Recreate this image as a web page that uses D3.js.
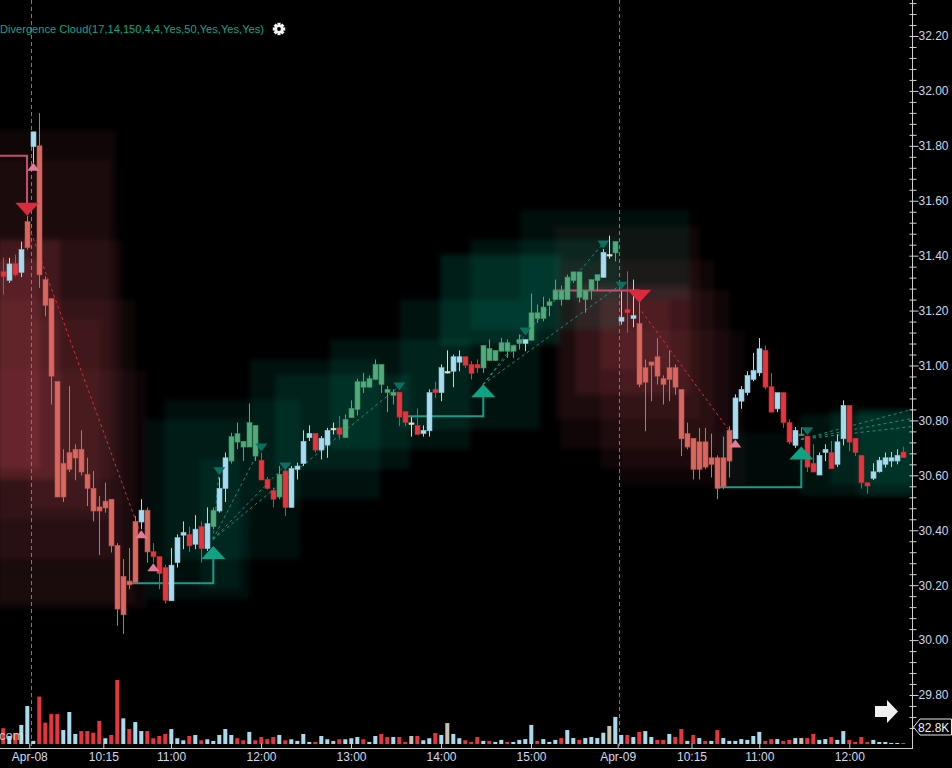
<!DOCTYPE html>
<html>
<head>
<meta charset="utf-8">
<script src="https://cdn.jsdelivr.net/npm/d3@7"></script>
<style>
  html, body { margin: 0; padding: 0; background: #000; }
  svg { display: block; font-family: "Liberation Sans", Arial, sans-serif; }
</style>
</head>
<body>
<div id="chart"></div>
<script>
// ---- data (4-minute bars, index 0 = last bars of Apr-07) ----
var legendText = "Divergence Cloud(17,14,150,4,4,Yes,50,Yes,Yes,Yes)";

var opens = [31.342,31.310,31.371,31.339,31.429,31.797,31.800,31.313,31.244,30.942,
  30.521,30.622,30.663,30.695,30.604,30.553,30.485,30.481,30.513,30.345,
  30.092,30.215,30.210,30.430,30.473,30.322,30.304,30.264,30.143,30.282,
  30.382,30.385,30.349,30.413,30.333,30.413,30.470,30.552,30.652,30.752,
  30.724,30.703,30.782,30.655,30.585,30.545,30.521,30.616,30.483,30.622,
  30.643,30.737,30.753,30.692,30.710,30.771,30.773,30.737,30.810,30.840,
  30.941,30.921,30.949,31.004,30.913,30.891,30.903,30.832,30.791,30.782,
  30.752,30.762,30.913,30.901,30.978,30.979,31.012,31.032,31.004,31.004,
  30.991,31.062,31.018,31.052,31.083,31.052,31.080,31.080,31.092,31.192,
  31.171,31.218,31.240,31.273,31.240,31.309,31.341,31.240,31.273,31.309,
  31.321,31.404,31.410,31.161,31.204,31.171,31.153,30.939,31.001,31.032,
  30.952,30.949,30.992,30.913,30.703,30.735,30.622,30.722,30.640,30.664,
  30.558,30.652,30.733,30.870,30.901,30.949,30.973,31.055,30.923,30.842,
  30.901,30.792,30.709,30.750,30.743,30.644,30.601,30.683,30.683,30.640,
  30.733,30.855,30.735,30.673,30.573,30.589,30.613,30.640,30.652,30.652,
  30.685];
var highs = [31.393,31.392,31.404,31.451,31.545,31.851,31.919,31.325,31.244,30.942,
  30.695,30.925,30.713,30.764,30.664,30.616,30.525,30.573,30.513,30.353,
  30.295,30.335,30.452,30.513,30.483,30.353,30.304,30.274,30.335,30.385,
  30.432,30.413,30.455,30.432,30.483,30.483,30.592,30.683,30.755,30.792,
  30.724,30.862,30.782,30.683,30.594,30.555,30.634,30.622,30.634,30.646,
  30.764,30.782,30.753,30.743,30.773,30.792,30.816,30.822,30.873,30.952,
  30.973,30.964,31.022,31.004,30.925,30.913,30.903,30.832,30.812,30.844,
  30.782,30.913,30.941,31.004,31.055,31.040,31.055,31.032,31.016,31.022,
  31.073,31.095,31.055,31.100,31.095,31.073,31.113,31.095,31.262,31.222,
  31.250,31.244,31.313,31.291,31.331,31.341,31.341,31.273,31.313,31.331,
  31.424,31.473,31.452,31.270,31.343,31.313,31.240,31.022,31.013,31.100,
  30.964,31.055,31.004,30.913,30.792,30.735,30.773,30.773,30.752,30.673,
  30.741,30.779,30.895,30.925,30.979,31.046,31.100,31.073,30.973,30.901,
  30.901,30.804,30.776,30.775,30.743,30.713,30.683,30.713,30.725,30.749,
  30.873,30.855,30.735,30.673,30.573,30.644,30.667,30.683,30.685,30.695,
  30.704];
var lows = [31.258,31.301,31.325,31.322,31.422,31.738,31.283,31.179,30.858,30.521,
  30.503,30.612,30.582,30.600,30.488,30.432,30.310,30.464,30.319,30.052,
  30.022,30.185,30.210,30.404,30.282,30.282,30.185,30.133,30.143,30.264,
  30.331,30.321,30.331,30.282,30.325,30.404,30.464,30.503,30.643,30.695,
  30.652,30.703,30.652,30.583,30.549,30.483,30.513,30.452,30.483,30.585,
  30.634,30.725,30.683,30.658,30.664,30.749,30.731,30.737,30.810,30.818,
  30.900,30.921,30.949,30.900,30.830,30.858,30.779,30.779,30.741,30.749,
  30.741,30.741,30.882,30.870,30.971,30.921,30.979,30.991,30.949,30.973,
  30.973,31.016,31.016,31.052,31.028,31.028,31.058,31.052,31.092,31.155,
  31.161,31.179,31.240,31.218,31.240,31.301,31.230,31.192,31.240,31.273,
  31.321,31.389,31.379,31.149,31.119,31.139,30.921,30.761,30.870,30.931,
  30.858,30.870,30.894,30.670,30.695,30.585,30.585,30.622,30.592,30.513,
  30.549,30.592,30.733,30.842,30.891,30.943,30.961,30.913,30.830,30.830,
  30.773,30.713,30.700,30.744,30.612,30.612,30.601,30.652,30.624,30.630,
  30.709,30.688,30.670,30.552,30.533,30.583,30.610,30.628,30.630,30.640,
  30.664];
var closes = [31.324,31.370,31.330,31.422,31.524,31.851,31.330,31.219,30.961,30.521,
  30.644,30.683,30.695,30.612,30.552,30.470,30.470,30.506,30.343,30.113,
  30.232,30.201,30.432,30.473,30.321,30.304,30.242,30.145,30.273,30.373,
  30.392,30.343,30.404,30.333,30.424,30.473,30.553,30.664,30.741,30.721,
  30.703,30.792,30.670,30.583,30.552,30.513,30.604,30.483,30.625,30.634,
  30.724,30.753,30.692,30.735,30.764,30.771,30.749,30.804,30.844,30.941,
  30.921,30.952,31.004,30.931,30.901,30.903,30.812,30.792,30.791,30.749,
  30.764,30.901,30.901,30.992,30.978,31.032,31.032,31.001,30.971,30.991,
  31.073,31.018,31.055,31.083,31.052,31.073,31.095,31.095,31.192,31.171,
  31.213,31.232,31.273,31.240,31.322,31.341,31.248,31.273,31.313,31.331,
  31.412,31.404,31.452,31.176,31.192,31.182,30.931,30.992,31.013,30.961,
  30.931,30.992,30.921,30.733,30.752,30.622,30.722,30.630,30.664,30.552,
  30.664,30.764,30.882,30.913,30.964,30.982,31.061,30.921,30.830,30.901,
  30.792,30.721,30.764,30.750,30.630,30.612,30.673,30.695,30.624,30.722,
  30.855,30.721,30.683,30.573,30.561,30.613,30.655,30.664,30.664,30.673,
  30.664];
// volume, thousands
var volumes = [77,39,54,93,185,15,231,104,146,146,
  68,156,49,63,63,55,112,28,44,312,
  125,73,107,63,63,28,39,49,73,28,
  18,39,44,18,23,15,44,73,44,28,
  18,59,18,34,24,34,44,18,23,15,
  49,10,10,39,23,15,23,23,28,34,
  23,10,39,49,34,34,34,10,39,39,
  18,28,54,44,102,49,28,18,10,34,
  15,15,10,20,10,10,20,24,93,15,
  24,10,20,29,68,29,20,29,34,29,
  55,88,132,44,44,34,59,63,34,20,
  20,49,34,73,15,44,29,15,15,68,
  29,15,15,24,20,39,59,15,24,24,
  15,20,29,29,29,49,20,24,34,20,
  63,20,10,34,10,20,10,10,5,5,
  5];
var volumeMark = 82.8;
// candle painting by the study: n = normal, r = bearish cloud, g = bullish cloud
var paintRuns = [["n",4],["r",1],["n",1],["r",17],["n",1],["r",1],["n",10],["g",1],["n",2],["g",5],
  ["n",3],["g",1],["n",10],["g",9],["n",14],["g",7],["n",1],["g",12],["n",2],["g",1],
  ["n",3],["r",16],["n",11],["g",1],["n",17]];

// x axis
var tickIdx = [4.33, 16.67, 27.95, 42.95, 57.95, 72.95, 87.95, 102.4, 114.7, 126, 141];
var tickLabels = ["Apr-08","10:15","11:00","12:00","13:00","14:00","15:00","Apr-09","10:15","11:00","12:00"];
var sessionStarts = [4.67, 102.67];

// clouds: [fromIdx, toIdx, top, bottom, opacity]
var bearCloud = [
  [-1, 18.8, 31.855, 30.585, 0.07], [-1, 17.8, 31.749, 30.44, 0.07], [-1, 19.95, 31.458, 30.295, 0.08],
  [-1, 21.95, 31.24, 30.131, 0.07], [-1, 23.95, 30.985, 30.113, 0.06], [-1, 9.45, 31.458, 30.585, 0.14],
  [-1, 6.1, 31.385, 30.622, 0.16], [4.45, 16.1, 31.167, 30.476, 0.08],
  [91.95, 116.1, 31.509, 30.804, 0.07], [92.8, 118.6, 31.385, 30.695, 0.08], [99.5, 121.1, 31.276, 30.622, 0.08],
  [102.8, 123.6, 31.131, 30.56, 0.06], [95.3, 114.45, 31.295, 30.895, 0.13], [99.45, 111.1, 31.24, 30.985, 0.1]
];
var bullCloud = [
  [23.6, 41.1, 30.804, 30.149, 0.08], [26.95, 49.45, 30.876, 30.295, 0.08], [41.1, 62.8, 31.022, 30.513, 0.09],
  [45.3, 67.8, 30.967, 30.622, 0.1], [54.45, 77.8, 31.095, 30.695, 0.1], [66.1, 89.45, 31.24, 30.767, 0.1],
  [72.8, 92.8, 31.404, 31.076, 0.16], [77.8, 102.8, 31.458, 31.131, 0.1], [86.1, 114.45, 31.567, 31.24, 0.08],
  [32.8, 39.45, 30.658, 30.185, 0.08],
  [119.45, 132.8, 30.756, 30.56, 0.06], [132.8, 152, 30.822, 30.524, 0.1], [137.8, 152, 30.84, 30.567, 0.1],
  [142.45, 152, 30.84, 30.524, 0.1]
];

// signals
var bearSteps = [[[-1, 31.764], [3.95, 31.764], [3.95, 31.585]], [[91.6, 31.273], [106, 31.273]]];
var bullSteps = [[[21.4, 30.207], [35, 30.207], [35, 30.295]], [[66.95, 30.815], [80, 30.815], [80, 30.884]],
  [[119.45, 30.557], [133, 30.557], [133, 30.658]]];
var bigBear = [[4, 31.593], [106, 31.276]];
var bigBull = [[35, 30.295], [80, 30.884], [133, 30.658]];
var smallBear = [[5, 31.709], [23, 30.371], [25, 30.251], [122, 30.701]];
var smallBull = [[36, 30.629], [43, 30.716], [47, 30.647], [66, 30.938], [87, 31.138], [100, 31.455], [103, 31.305], [134, 30.775]];
var bearLines = [[[4.28, 31.505], [22.95, 30.382]], [[106.4, 31.197], [121.1, 30.76]]];
var bullLines = [
  [[34.95, 30.367], [35.95, 30.615]], [[34.95, 30.367], [42.95, 30.705]], [[34.95, 30.367], [46.95, 30.636]],
  [[34.95, 30.367], [65.95, 30.924]], [[79.95, 30.931], [86.8, 31.124]], [[79.95, 30.931], [99.95, 31.444]],
  [[79.95, 30.931], [102.95, 31.295]], [[132.95, 30.731], [151.45, 30.84]], [[132.95, 30.731], [151.45, 30.807]],
  [[132.95, 30.731], [151.45, 30.778]]
];

// ---- drawing ----
var W = 952, H = 768, plotR = 912, plotB = 748, volBase = 744;

var paint = [];
paintRuns.forEach(function(r) { for (var k = 0; k < r[1]; k++) paint.push(r[0]); });

var bars = opens.map(function(o, i) {
  return {i: i, o: o, h: highs[i], l: lows[i], c: closes[i], v: volumes[i], paint: paint[i]};
});

var x = d3.scaleLinear().domain([0, 150]).range([3.3, 903.3]);
var y = d3.scaleLinear().domain([29.8, 32.2]).range([695, 36]);
var yVol = d3.scaleLinear().domain([0, 312]).range([volBase, 680]);

var col = {up: "#a9dbee", upEdge: "#86c2da", down: "#e8343c", downEdge: "#c02a31", doji: "#e6dfc6",
  bear: "#d9675f", bearEdge: "#b85450", bull: "#4fab79", bullEdge: "#3e8e63"};

function candleColors(d) {
  if (d.paint === "r") return [col.bear, col.bearEdge];
  if (d.paint === "g") return [col.bull, col.bullEdge];
  if (d.c === d.o) return [col.doji, col.doji];
  return d.c > d.o ? [col.up, col.upEdge] : [col.down, col.downEdge];
}
function volColor(d) {
  if (d.c === d.o) return "#c9c3ad";
  return d.c > d.o ? col.up : col.down;
}

var svg = d3.select("#chart").append("svg").attr("width", W).attr("height", H);
svg.append("rect").attr("width", W).attr("height", H).attr("fill", "#000");

var defs = svg.append("defs");
defs.append("clipPath").attr("id", "plot")
  .append("rect").attr("x", 0).attr("y", 0).attr("width", plotR).attr("height", plotB);
defs.append("filter").attr("id", "soft").attr("x", "-10%").attr("y", "-10%").attr("width", "120%").attr("height", "120%")
  .append("feGaussianBlur").attr("stdDeviation", 2.5);

var plot = svg.append("g").attr("clip-path", "url(#plot)");

// clouds
function drawCloud(data, fill) {
  plot.append("g").attr("filter", "url(#soft)")
    .selectAll("rect").data(data).enter().append("rect")
    .attr("x", function(d) { return x(d[0]); })
    .attr("width", function(d) { return x(d[1]) - x(d[0]); })
    .attr("y", function(d) { return y(d[2]); })
    .attr("height", function(d) { return y(d[3]) - y(d[2]); })
    .attr("fill", fill)
    .attr("fill-opacity", function(d) { return d[4]; });
}
drawCloud(bearCloud, "rgb(210,78,95)");
drawCloud(bullCloud, "rgb(0,185,150)");

// session separators
plot.append("g").selectAll("line").data(sessionStarts).enter().append("line")
  .attr("x1", function(d) { return Math.round(x(d)) + 0.5; })
  .attr("x2", function(d) { return Math.round(x(d)) + 0.5; })
  .attr("y1", 0).attr("y2", plotB)
  .attr("stroke", "#7a7a7a").attr("stroke-dasharray", "4,3");

// volume
plot.append("g").selectAll("rect").data(bars).enter().append("rect")
  .attr("x", function(d) { return x(d.i) - 2; })
  .attr("width", 4)
  .attr("y", function(d) { return yVol(d.v); })
  .attr("height", function(d) { return volBase - yVol(d.v); })
  .attr("fill", volColor);

// dashed divergence lines
var line = d3.line().x(function(d) { return x(d[0]); }).y(function(d) { return y(d[1]); });
plot.append("g").selectAll("path").data(bullLines).enter().append("path")
  .attr("d", line).attr("fill", "none").attr("stroke", "#17a084").attr("stroke-width", 1)
  .attr("stroke-dasharray", "3,3").attr("opacity", 0.85);
plot.append("g").selectAll("path").data(bearLines).enter().append("path")
  .attr("d", line).attr("fill", "none").attr("stroke", "#d52c3a").attr("stroke-width", 1)
  .attr("stroke-dasharray", "3,3");

// step lines
plot.append("g").selectAll("path").data(bearSteps).enter().append("path")
  .attr("d", line).attr("fill", "none").attr("stroke", "#c2506c").attr("stroke-width", 2);
plot.append("g").selectAll("path").data(bullSteps).enter().append("path")
  .attr("d", line).attr("fill", "none").attr("stroke", "#1a9c88").attr("stroke-width", 2);

// candles
var cg = plot.append("g").selectAll("g").data(bars).enter().append("g");
cg.append("line")
  .attr("x1", function(d) { return Math.round(x(d.i)) + 0.5; })
  .attr("x2", function(d) { return Math.round(x(d.i)) + 0.5; })
  .attr("y1", function(d) { return y(d.h); })
  .attr("y2", function(d) { return y(d.l); })
  .attr("stroke", function(d) { return candleColors(d)[0]; });
cg.append("rect")
  .attr("x", function(d) { return Math.round(x(d.i)) - 2; })
  .attr("width", 5)
  .attr("y", function(d) { return y(Math.max(d.o, d.c)); })
  .attr("height", function(d) { return Math.max(1.5, Math.abs(y(d.o) - y(d.c))); })
  .attr("fill", function(d) { return candleColors(d)[0]; })
  .attr("stroke", function(d) { return candleColors(d)[1]; })
  .attr("stroke-width", 0.6);

// triangles
function tri(d, w, h, up) {
  var cx = x(d[0]), by = y(d[1]);
  return up
    ? "M" + (cx - w / 2) + "," + by + "L" + (cx + w / 2) + "," + by + "L" + cx + "," + (by - h) + "Z"
    : "M" + (cx - w / 2) + "," + by + "L" + (cx + w / 2) + "," + by + "L" + cx + "," + (by + h) + "Z";
}
plot.append("g").selectAll("path").data(bigBear).enter().append("path")
  .attr("d", function(d) { return tri(d, 24, 13, false); }).attr("fill", "#d92b3d");
plot.append("g").selectAll("path").data(bigBull).enter().append("path")
  .attr("d", function(d) { return tri(d, 24, 13, true); }).attr("fill", "#0fa383");
plot.append("g").selectAll("path").data(smallBear).enter().append("path")
  .attr("d", function(d) { return tri(d, 12, 8, true); }).attr("fill", "#e07b98");
plot.append("g").selectAll("path").data(smallBull).enter().append("path")
  .attr("d", function(d) { return tri(d, 12, 8, false); }).attr("fill", "#0b6f60");

// axes
var priceTicks = d3.range(0, 67).map(function(k) { return +(29.68 + k * 0.04).toFixed(2); });
var isMajor = function(v) { return Math.abs(Math.round(v * 5) - v * 5) < 1e-6; };

var yAxis = svg.append("g").attr("transform", "translate(" + (plotR + 0.5) + ",0)")
  .call(d3.axisRight(y).tickValues(priceTicks).tickSize(5).tickSizeOuter(0)
    .tickFormat(function(v) { return isMajor(v) ? d3.format(".2f")(v) : ""; }));
yAxis.select(".domain").remove();
yAxis.selectAll(".tick line").attr("stroke", "#cfcfcf")
  .attr("x1", -3).attr("x2", function(v) { return isMajor(v) ? 6 : 4; });
yAxis.selectAll(".tick text").attr("x", 6).attr("fill", "#cdd6ea")
  .attr("font-size", 12).attr("font-family", "Liberation Sans, Arial, sans-serif");
yAxis.selectAll(".tick").filter(function(v) { return y(v) > plotB - 2 || y(v) < 2; }).remove();

var xAxis = svg.append("g").attr("transform", "translate(0," + (plotB + 0.5) + ")")
  .call(d3.axisBottom(x).tickValues(tickIdx).tickSize(-5).tickSizeOuter(0)
    .tickFormat(function(v, i) { return tickLabels[i]; }));
xAxis.select(".domain").remove();
xAxis.selectAll(".tick line").attr("stroke", "#cfcfcf");
xAxis.selectAll(".tick text").attr("y", 4).attr("dy", "0.71em").attr("fill", "#d2dbee")
  .attr("font-size", 12).attr("font-family", "Liberation Sans, Arial, sans-serif");

svg.append("line").attr("x1", plotR + 0.5).attr("x2", plotR + 0.5).attr("y1", 0).attr("y2", plotB + 1)
  .attr("stroke", "#cfcfcf");
svg.append("line").attr("x1", 0).attr("x2", plotR + 1).attr("y1", plotB + 0.5).attr("y2", plotB + 0.5)
  .attr("stroke", "#cfcfcf");

// volume marker label
var vy = yVol(volumeMark);
svg.append("path")
  .attr("d", "M" + (plotR + 1.5) + "," + vy + "L" + (plotR + 8) + "," + (vy - 8) + "L" + (W - 0.5) + "," + (vy - 8) +
    "L" + (W - 0.5) + "," + (vy + 8) + "L" + (plotR + 8) + "," + (vy + 8) + "Z")
  .attr("fill", "#000").attr("stroke", "#e8e8e8");
svg.append("text").attr("x", plotR + 6).attr("y", vy + 4.5).attr("fill", "#f2f2f2")
  .attr("font-size", 12).text(d3.format(".1f")(volumeMark) + "K");

// scroll arrow
svg.append("path")
  .attr("d", "M875,706L887,706L887,700L898,711.5L887,723L887,717L875,717Z")
  .attr("fill", "#f0f0f0");

// watermark fragment
svg.append("text").attr("x", -1).attr("y", 740).attr("fill", "#e6e6e6").attr("fill-opacity", 0.85)
  .attr("font-size", 13).text("com");

// legend
svg.append("text").attr("x", 0).attr("y", 33).attr("fill", "#17a584").attr("font-size", 11.5)
  .attr("textLength", 264).attr("lengthAdjust", "spacingAndGlyphs")
  .text(legendText);

// gear icon
var gear = svg.append("g").attr("transform", "translate(279,29)");
d3.range(8).forEach(function(k) {
  gear.append("rect").attr("x", -1.6).attr("y", -6.2).attr("width", 3.2).attr("height", 3)
    .attr("fill", "#f4f4f4").attr("transform", "rotate(" + (k * 45) + ")");
});
gear.append("circle").attr("r", 4.3).attr("fill", "#f4f4f4");
gear.append("circle").attr("r", 1.9).attr("fill", "#000");
</script>
</body>
</html>
